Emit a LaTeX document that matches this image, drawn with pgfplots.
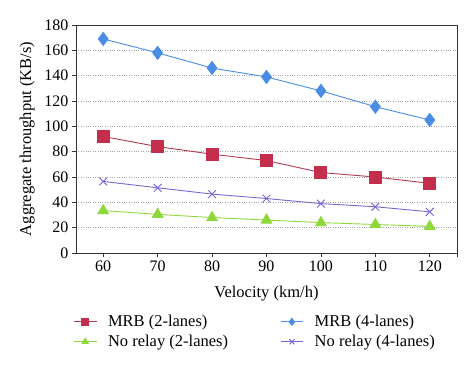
\documentclass[border=0pt]{standalone}
\usepackage{fontspec}
\setmainfont{Liberation Serif}
\usepackage{pgfplots}
\pgfplotsset{compat=1.18}
\definecolor{mrbtwo}{HTML}{C22E4C}
\definecolor{mrbtwoline}{HTML}{B03A50}
\definecolor{mrbfour}{HTML}{4A8DE6}
\definecolor{nrtwo}{HTML}{8ED83A}
\definecolor{nrfour}{HTML}{7A66D4}
\definecolor{axgray}{HTML}{333333}
\begin{document}
\begin{tikzpicture}
\begin{axis}[
  scale only axis,
  width=381pt, height=228pt,
  xmin=55, xmax=125, ymin=0, ymax=180,
  xtick={60,70,80,90,100,110,120},
  ytick={0,20,40,60,80,100,120,140,160,180},
  extra x ticks={125}, extra x tick labels={},
  extra x tick style={grid=none},
  tick pos=left,
  tick align=outside,
  major tick length=4pt,
  tick style={axgray, line width=0.8pt},
  axis line style={axgray, line width=0.9pt},
  ymajorgrids,
  grid style={gray!70, dotted, line width=0.9pt},
  /pgf/number format/assume math mode=true,
  tick label style={font=\fontsize{16}{18}\selectfont},
  label style={font=\fontsize{16.5}{18}\selectfont},
  xlabel={Velocity (km/h)},
  ylabel={Aggregate throughput (KB/s)},
  xlabel style={yshift=0pt},
  ylabel style={yshift=3pt},
  legend columns=2,
  legend cell align=left,
  legend image code/.code={\draw[mark repeat=2,mark phase=2,#1] plot coordinates {(0cm,0cm) (0.4cm,0cm) (0.8cm,0cm)};},
  every legend image post/.style={mark size=3.5pt},
  legend style={draw=none, fill=none, at={(0.47,-0.255)}, anchor=north,
    font=\fontsize{16.5}{20}\selectfont,
    /tikz/every odd column/.append style={column sep=9pt},
    /tikz/every even column/.append style={column sep=50pt},
    row sep=3pt},
]
\addplot[color=mrbtwoline, line width=0.9pt, mark=square*, mark size=6pt, mark options={fill=mrbtwo, draw=mrbtwo}]
  coordinates {(60,92) (70,84) (80,78) (90,73) (100,63.5) (110,60) (120,55)};
\addlegendentry{MRB (2-lanes)}
\addplot[color=mrbfour, line width=0.9pt, mark=diamond*, mark size=6.5pt, mark options={fill=mrbfour}]
  coordinates {(60,169) (70,158) (80,146) (90,139) (100,128) (110,115.5) (120,105)};
\addlegendentry{MRB (4-lanes)}
\addplot[color=nrtwo, line width=0.9pt, mark=triangle*, mark size=6pt, mark options={fill=nrtwo}]
  coordinates {(60,33.5) (70,30.5) (80,28) (90,26) (100,24) (110,22.5) (120,21)};
\addlegendentry{No relay (2-lanes)}
\addplot[color=nrfour, line width=0.9pt, mark=x, mark size=5.5pt, mark options={line width=0.9pt}]
  coordinates {(60,56.5) (70,51.5) (80,46.5) (90,43) (100,39) (110,36.5) (120,32.5)};
\addlegendentry{No relay (4-lanes)}
\end{axis}
\useasboundingbox (-76pt,-114pt) rectangle (398pt,253pt);
\end{tikzpicture}
\end{document}
